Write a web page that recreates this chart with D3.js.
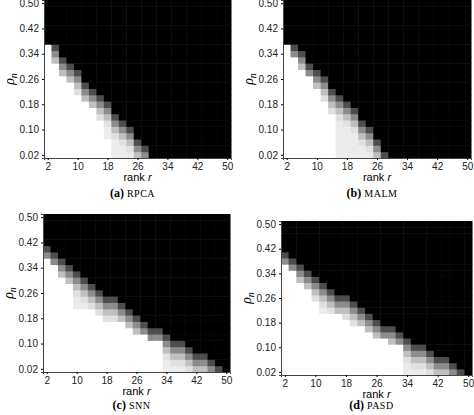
<!DOCTYPE html>
<html>
<head>
<script src="https://d3js.org/d3.v7.min.js"></script>
<style>
body{margin:0;background:#fff}
.tick text{font-family:"Liberation Sans",Arial,sans-serif;font-size:10px;fill:#222}
</style>
</head>
<body>
<svg width="474" height="415"></svg>
<script>
// grid values
var ranks = d3.range(2, 51, 2);                 // 25 columns
var rhos = d3.range(1, 26).map(function (k) { return k * 0.02; }); // 25 rows
var xTicks = [2, 10, 18, 26, 34, 42, 50];
var yTicks = [0.02, 0.10, 0.18, 0.26, 0.34, 0.42, 0.50];

// per column: first black row (from bottom) and number of white rows below
var rpcaBlack = [18, 18, 16, 15, 14, 12, 11, 10, 9, 7, 6, 5, 3, 2, 0, 0, 0, 0, 0, 0, 0, 0, 0, 0, 0];
var rpcaWhite = [18, 15, 13, 12, 10, 9, 8, 6, 3, 0, 0, 0, 0, 0, 0, 0, 0, 0, 0, 0, 0, 0, 0, 0, 0];
var malmBlack = [18, 18, 17, 15, 14, 13, 11, 10, 9, 8, 6, 5, 3, 1, 0, 0, 0, 0, 0, 0, 0, 0, 0, 0, 0];
var malmWhite = [18, 16, 14, 13, 11, 9, 7, 0, 0, 0, 0, 0, 0, 0, 0, 0, 0, 0, 0, 0, 0, 0, 0, 0, 0];
var snnBlack  = [20, 19, 18, 17, 16, 15, 14, 13, 12, 12, 11, 10, 9, 8, 7, 7, 6, 5, 5, 4, 3, 3, 2, 1, 0];
var snnWhite  = [18, 17, 15, 14, 10, 10, 10, 9, 8, 8, 8, 7, 6, 6, 5, 5, 0, 0, 0, 0, 0, 0, 0, 0, 0];
var pasdBlack = [20, 19, 18, 17, 16, 15, 14, 13, 13, 12, 11, 10, 9, 8, 8, 7, 6, 5, 5, 4, 3, 3, 2, 1, 0];
var pasdWhite = [18, 17, 15, 14, 12, 10, 10, 10, 9, 8, 8, 7, 6, 6, 5, 5, 0, 0, 0, 0, 0, 0, 0, 0, 0];
// grey level by distance below the black edge (1 = just below)
var edgeShade = [0.3, 0.55, 0.75, 0.88, 0.92];

var panels = [
  {tag: "(a)", name: "RPCA", black: rpcaBlack, white: rpcaWhite, x0: 44, x1: 231, y0: 0, y1: 158, cap: 197},
  {tag: "(b)", name: "MALM", black: malmBlack, white: malmWhite, x0: 283, x1: 471, y0: 0, y1: 158, cap: 197},
  {tag: "(c)", name: "SNN", black: snnBlack, white: snnWhite, x0: 43, x1: 230, y0: 214, y1: 372, cap: 409},
  {tag: "(d)", name: "PASD", black: pasdBlack, white: pasdWhite, x0: 281, x1: 472, y0: 221, y1: 375, cap: 409}
];

var svg = d3.select("svg");
var grey = d3.scaleLinear().domain([0, 1]).range(["#000", "#fff"]).clamp(true);

panels.forEach(function (p) {
  var x = d3.scaleLinear().domain([1, 51]).range([p.x0, p.x1]);
  var y = d3.scaleLinear().domain([0.01, 0.51]).range([p.y1, p.y0]);
  var cells = [];
  ranks.forEach(function (r, i) {
    rhos.forEach(function (rho, j) {
      var b = p.black[i], w = p.white[i], v;
      if (j >= b) v = 0;
      else if (j < w) v = 1;
      else v = edgeShade[Math.min(b - j - 1, edgeShade.length - 1)];
      cells.push({r: r, rho: rho, v: v});
    });
  });
  svg.append("g").selectAll("rect").data(cells).enter().append("rect")
    .attr("x", function (d) { return x(d.r - 1); })
    .attr("y", function (d) { return y(d.rho + 0.01); })
    .attr("width", x(3) - x(1) + 0.5)
    .attr("height", y(0.01) - y(0.03) + 0.5)
    .attr("fill", function (d) { return grey(d.v); });

  svg.append("g").attr("transform", "translate(0," + p.y1 + ")")
    .call(d3.axisBottom(x).tickValues(xTicks).tickSize(2).tickFormat(d3.format("d")))
    .call(function (s) { s.select(".domain").attr("stroke", "#444"); });
  svg.append("g").attr("transform", "translate(" + p.x0 + ",0)")
    .call(d3.axisLeft(y).tickValues(yTicks).tickSize(2).tickFormat(d3.format(".2f")))
    .call(function (s) { s.select(".domain").attr("stroke", "#444"); });

  svg.append("text").attr("x", (p.x0 + p.x1) / 2).attr("y", p.y1 + 23)
    .attr("text-anchor", "middle").style("font-family", "Liberation Sans, Arial").style("font-size", "11px")
    .html("rank <tspan font-style='italic'>r</tspan>");
  svg.append("text")
    .attr("transform", "translate(" + (p.x0 - 30) + "," + ((p.y0 + p.y1) / 2) + ") rotate(-90)")
    .attr("text-anchor", "middle").style("font-family", "Liberation Serif, serif").style("font-size", "14px").style("font-style", "italic")
    .html("ρ<tspan font-size='10px' dy='3'>n</tspan>");
  svg.append("text").attr("x", (p.x0 + p.x1) / 2 - 5).attr("y", p.cap)
    .attr("text-anchor", "middle").style("font-family", "Liberation Serif, serif").style("font-size", "12px")
    .html("<tspan font-weight='bold'>" + p.tag + "</tspan> <tspan font-size='10px' letter-spacing='0.5'>" + p.name + "</tspan>");
});
</script>
</body>
</html>
